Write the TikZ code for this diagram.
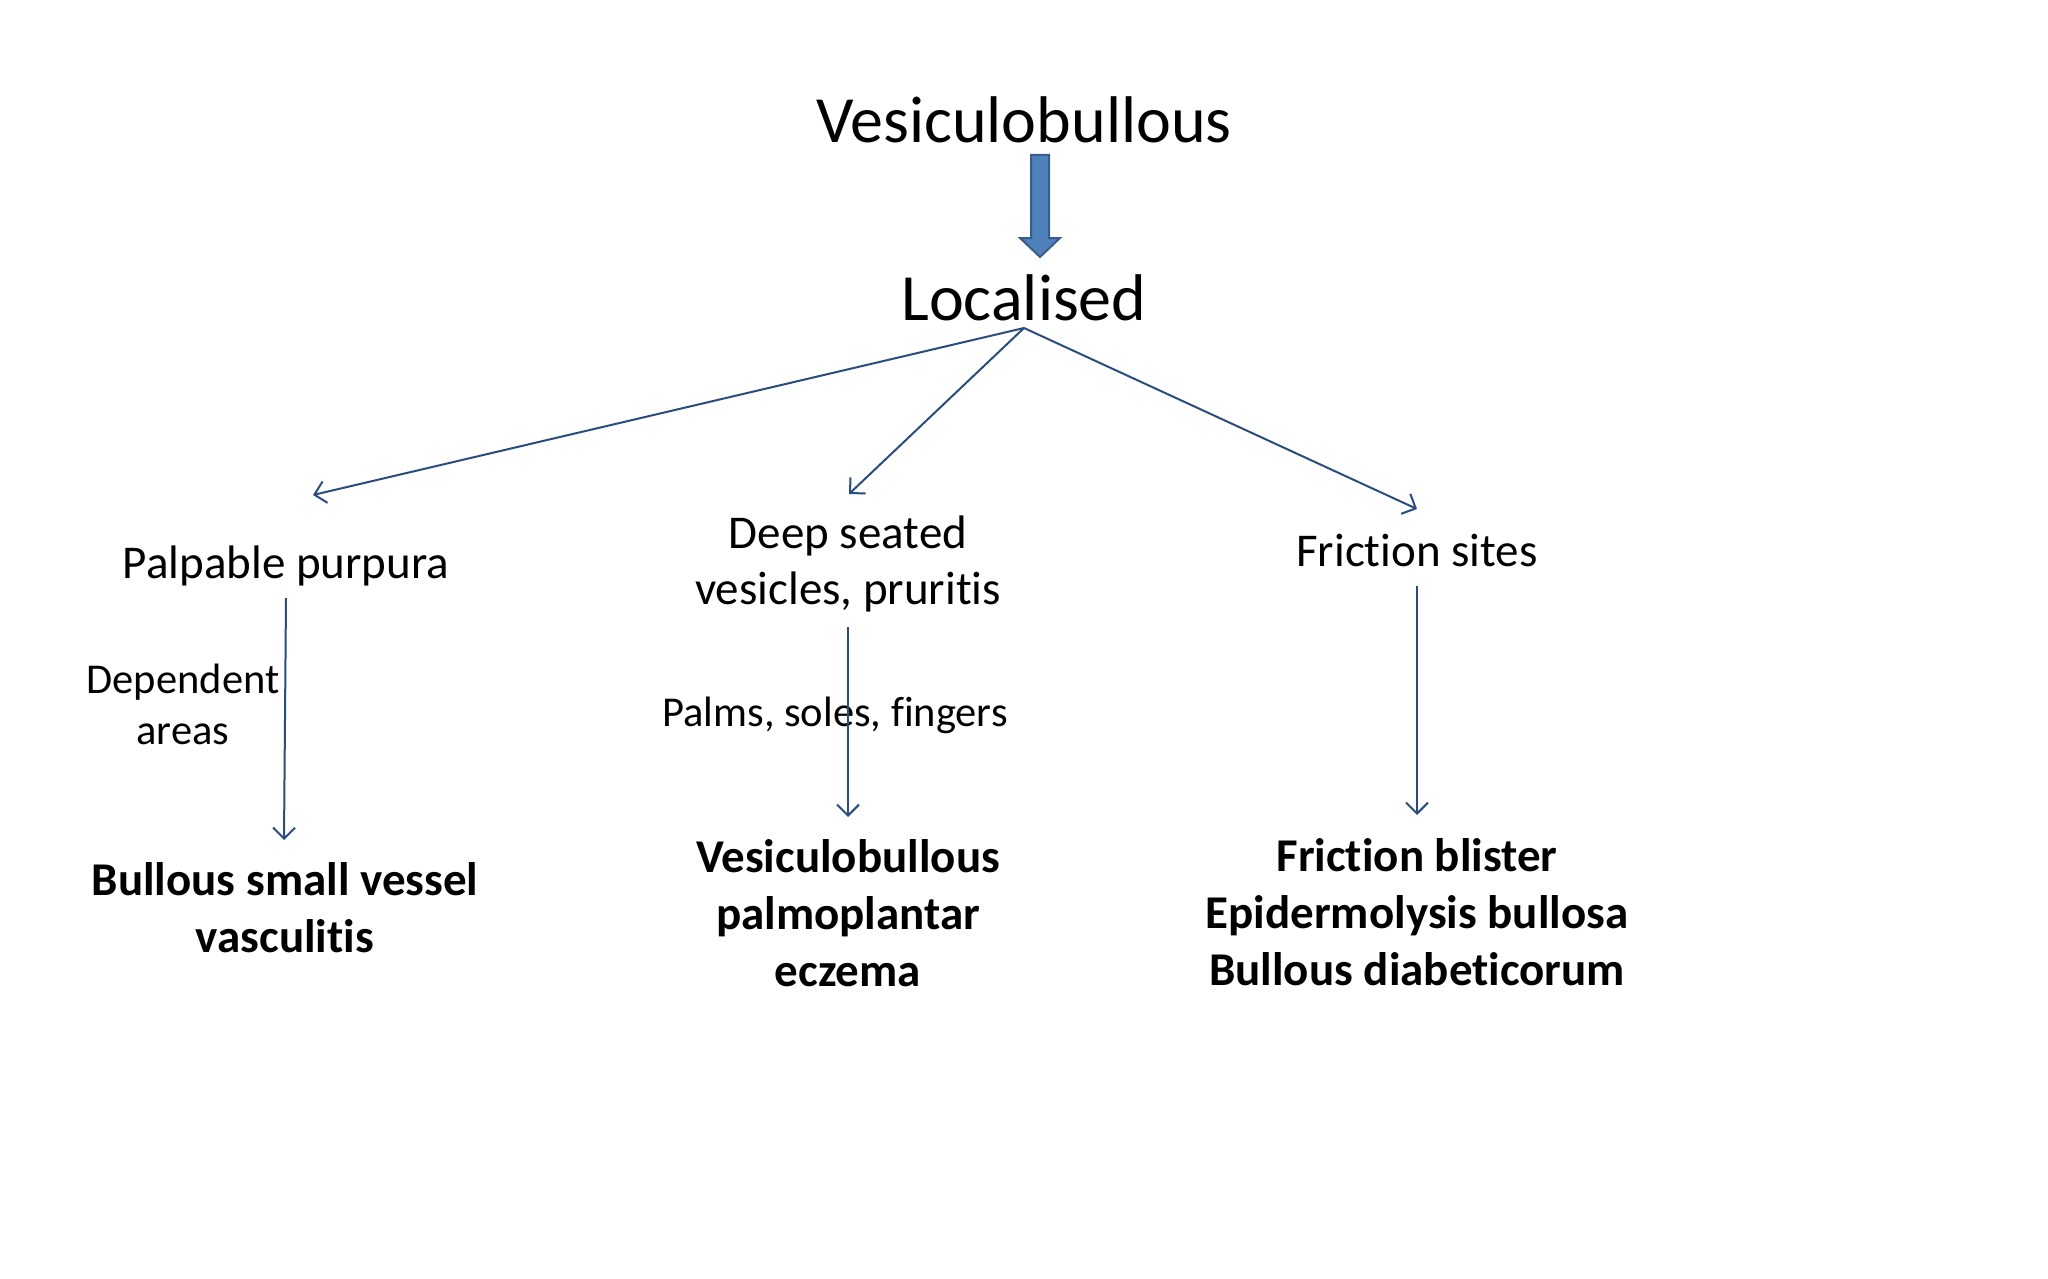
\documentclass[tikz,border=0pt]{standalone}
\usepackage{fontspec}
\setmainfont[Ligatures=NoCommon]{Carlito}
\usetikzlibrary{arrows.meta}
\definecolor{linec}{HTML}{2A4D7F}
\definecolor{bigfill}{HTML}{4F81BD}
\definecolor{bigedge}{HTML}{385D8A}
\tikzset{
  x=1pt, y=-1pt,
  title/.style={font=\fontsize{66}{80}\selectfont, inner sep=0pt, anchor=center},
  lbl/.style={font=\fontsize{47}{56}\selectfont, inner sep=0pt, align=center, anchor=center},
  small/.style={font=\fontsize{42.5}{51}\selectfont, inner sep=0pt, align=center, anchor=center},
  res/.style={font=\fontsize{47}{57}\selectfont\bfseries, inner sep=0pt, align=center, anchor=center},
  conn/.style={draw=linec, line width=2pt, -{Straight Barb[length=11pt,width=22pt,line width=2pt]}},
}
\begin{document}
\begin{tikzpicture}
\useasboundingbox (0,0) rectangle (2048,1279);
\fill[white] (0,0) rectangle (2048,1279);

\node[title] (ves) at (1024,120) {Vesiculobullous};
\node[title] (loc) at (1024,298) {Localised};

% big block arrow
\draw[fill=bigfill, draw=bigedge, line width=2pt, line join=miter]
  (1031,155) -- (1049,155) -- (1049,238) -- (1060,238) -- (1040,257) -- (1020,238) -- (1031,238) -- cycle;

\node[lbl] (pp) at (286,566) {Palpable purpura};
\node[lbl] (ds) at (848,564) {Deep seated\\vesicles, pruritis};
\node[lbl] (fs) at (1417,550) {Friction sites};

\coordinate (lb) at (1024,328);
\coordinate (tpp) at (313,495);
\coordinate (tds) at (849,494);
\coordinate (tfs) at (1417,509);

\draw[conn] (lb) -- (tpp);
\draw[conn] (lb) -- (tds);
\draw[conn] (lb) -- (tfs);

\node[small] (dep) at (183,704) {Dependent\\areas};
\node[small] (pal) at (835,715) {Palms, soles, fingers};

\node[res] (bsv) at (285,908) {Bullous small vessel\\vasculitis};
\node[res] (vpe) at (848,913) {Vesiculobullous\\palmoplantar\\eczema};
\node[res] (fb) at (1417,912) {Friction blister\\Epidermolysis bullosa\\Bullous diabeticorum};

\coordinate (spp) at (286,598);
\coordinate (epp) at (284,840);
\coordinate (sds) at (848,627);
\coordinate (eds) at (848,817);
\coordinate (sfs) at (1417,586);
\coordinate (efs) at (1417,815);

\draw[conn] (spp) -- (epp);
\draw[conn] (sds) -- (eds);
\draw[conn] (sfs) -- (efs);
\end{tikzpicture}
\end{document}
